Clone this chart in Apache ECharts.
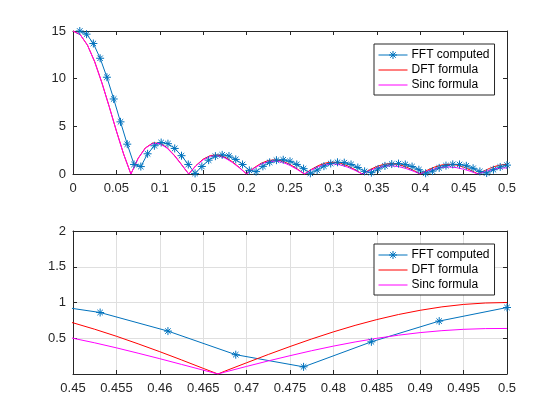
<!DOCTYPE html>
<html>
<head>
<meta charset="utf-8">
<script src="https://cdn.jsdelivr.net/npm/echarts@6/dist/echarts.min.js"></script>
<style>
  html, body { margin: 0; padding: 0; background: #fff; }
  #chart { width: 560px; height: 420px; }
</style>
</head>
<body>
<div id="chart"></div>
<script>
// normalised frequency samples for the two formula curves
const freq = [
  0, 0.0083, 0.0167, 0.025, 0.0333, 0.0417, 0.05, 0.0583, 0.0667, 0.075,
  0.0833, 0.0917, 0.1, 0.1083, 0.1167, 0.125, 0.1333, 0.1417, 0.15, 0.1583,
  0.1667, 0.175, 0.1833, 0.1917, 0.2, 0.2083, 0.2167, 0.225, 0.2333, 0.2417,
  0.25, 0.2583, 0.2667, 0.275, 0.2833, 0.2917, 0.3, 0.3083, 0.3167, 0.325,
  0.3333, 0.3417, 0.35, 0.3583, 0.3667, 0.375, 0.3833, 0.3917, 0.4, 0.4083,
  0.4167, 0.425, 0.4333, 0.4417,
  0.45, 0.4525, 0.455, 0.4575, 0.46, 0.4625, 0.465, 0.4667, 0.4675, 0.47,
  0.4725, 0.475, 0.4775, 0.48, 0.4825, 0.485, 0.4875, 0.49, 0.4925, 0.495, 0.4975, 0.5
];
const dftMag = [
  15, 14.62, 13.51, 11.78, 9.57, 7.08, 4.52, 2.10, 0, 1.64,
  2.73, 3.25, 3.24, 2.77, 1.97, 1.00, 0, 0.89, 1.56, 1.94,
  2.00, 1.77, 1.30, 0.68, 0, 0.63, 1.12, 1.42, 1.49, 1.34,
  1.00, 0.53, 0, 0.50, 0.91, 1.17, 1.24, 1.12, 0.84, 0.45,
  0, 0.44, 0.79, 1.02, 1.10, 1.00, 0.76, 0.41, 0, 0.40,
  0.73, 0.95, 1.02, 0.94,
  0.716, 0.626, 0.528, 0.422, 0.312, 0.197, 0.079, 0, 0.040, 0.157,
  0.273, 0.384, 0.490, 0.589, 0.680, 0.761, 0.832, 0.891, 0.939, 0.973, 0.993, 1.000
];
const sincMag = [
  15, 14.62, 13.51, 11.76, 9.55, 7.06, 4.50, 2.09, 0, 1.62,
  2.70, 3.21, 3.18, 2.72, 1.93, 0.97, 0, 0.86, 1.50, 1.86,
  1.91, 1.68, 1.23, 0.64, 0, 0.59, 1.04, 1.31, 1.36, 1.22,
  0.90, 0.47, 0, 0.44, 0.79, 1.01, 1.06, 0.95, 0.71, 0.38,
  0, 0.36, 0.64, 0.82, 0.87, 0.78, 0.59, 0.31, 0, 0.30,
  0.54, 0.69, 0.74, 0.67,
  0.500, 0.436, 0.366, 0.291, 0.214, 0.134, 0.054, 0, 0.027, 0.106,
  0.183, 0.256, 0.326, 0.390, 0.448, 0.499, 0.543, 0.579, 0.606, 0.625, 0.635, 0.637
];
// FFT bins (128 point), plotted one bin to the right
const fftMag = [
  15.00, 14.67, 13.69, 12.14, 10.15, 7.87, 5.47, 3.13, 1.00, 0.78,
  2.12, 2.96, 3.30, 3.18, 2.68, 1.92, 1.00, 0.06, 0.79, 1.45,
  1.87, 2.01, 1.89, 1.53, 1.00, 0.38, 0.25, 0.80, 1.22, 1.45,
  1.49, 1.33, 1.00, 0.56, 0.07, 0.41, 0.82, 1.10, 1.23, 1.19,
  1.00, 0.68, 0.28, 0.14, 0.53, 0.85, 1.04, 1.09, 1.00, 0.78,
  0.45, 0.08, 0.30, 0.64, 0.88, 1.01, 1.00, 0.86, 0.60, 0.27,
  0.10, 0.45, 0.74, 0.93
];
const fftLen = 128;
const seriesNames = ['FFT computed', 'DFT formula', 'Sinc formula'];

const axisColor = '#262626';
const fontFamily = '"Liberation Sans", Arial, Helvetica, sans-serif';
const star = 'path://M5,0L5,10M0,5L10,5M1.6,1.6L8.4,8.4M1.6,8.4L8.4,1.6';

const fftPts = fftMag.map((v, i) => [(i + 1) / fftLen, v]);
const dftPts = freq.map((f, i) => [f, dftMag[i]]);
const sincPts = freq.map((f, i) => [f, sincMag[i]]);

const fmt = v => String(+v.toFixed(3));

function xPair(gi, min, max, interval, grid) {
  const base = {
    type: 'value', gridIndex: gi, min, max, interval,
    axisLine: { onZero: false, lineStyle: { color: axisColor, width: 1 } },
    axisTick: { inside: true, length: 4, lineStyle: { color: axisColor } },
    splitLine: { show: false }
  };
  return [
    Object.assign({}, base, {
      position: 'bottom',
      splitLine: { show: grid, lineStyle: { color: '#dfdfdf', width: 1 } },
      axisLabel: { color: axisColor, fontSize: 13, fontFamily, margin: 8, interval: 0, formatter: fmt }
    }),
    Object.assign({}, base, { position: 'top', axisLabel: { show: false } })
  ];
}

function yPair(gi, min, max, interval, grid, hideZero) {
  const base = {
    type: 'value', gridIndex: gi, min, max, interval,
    axisLine: { show: true, onZero: false, lineStyle: { color: axisColor, width: 1 } },
    axisTick: { show: true, inside: true, length: 4, lineStyle: { color: axisColor } },
    splitLine: { show: false }
  };
  return [
    Object.assign({}, base, {
      position: 'left',
      splitLine: { show: grid, lineStyle: { color: '#dfdfdf', width: 1 } },
      axisLabel: {
        color: axisColor, fontSize: 13, fontFamily, margin: 7,
        formatter: v => (hideZero && v === 0 ? '' : fmt(v))
      }
    }),
    Object.assign({}, base, { position: 'right', axisLabel: { show: false } })
  ];
}

function seriesFor(xi, yi) {
  return [
    {
      name: seriesNames[0], type: 'line', xAxisIndex: xi, yAxisIndex: yi,
      data: fftPts, symbol: star, symbolSize: 8,
      lineStyle: { color: '#0072BD', width: 1 },
      itemStyle: { color: '#0072BD', borderColor: '#0072BD', borderWidth: 1 }
    },
    {
      name: seriesNames[1], type: 'line', xAxisIndex: xi, yAxisIndex: yi,
      data: dftPts, symbol: 'none',
      lineStyle: { color: '#FF0000', width: 1 }, itemStyle: { color: '#FF0000' }
    },
    {
      name: seriesNames[2], type: 'line', xAxisIndex: xi, yAxisIndex: yi,
      data: sincPts, symbol: 'none',
      lineStyle: { color: '#FF00FF', width: 1 }, itemStyle: { color: '#FF00FF' }
    }
  ];
}

function legendAt(top) {
  return {
    data: [
      { name: seriesNames[0], itemStyle: { borderWidth: 1 }, lineStyle: { width: 1 } },
      { name: seriesNames[1], itemStyle: { opacity: 0 }, lineStyle: { width: 1 } },
      { name: seriesNames[2], itemStyle: { opacity: 0 }, lineStyle: { width: 1 } }
    ],
    orient: 'vertical', left: 374, top,
    backgroundColor: '#fff', borderColor: axisColor, borderWidth: 1, borderRadius: 0,
    padding: [5, 5, 4, 4], itemWidth: 29, itemHeight: 10, itemGap: 3,
    textStyle: { color: '#000', fontSize: 12, fontFamily, padding: [0, 0, 0, -1] }
  };
}

const chart = echarts.init(document.getElementById('chart'), null, { renderer: 'canvas' });
chart.setOption({
  animation: false,
  backgroundColor: '#fff',
  grid: [
    { left: 73, top: 31, width: 434, height: 143 },
    { left: 73, top: 231, width: 434, height: 143 }
  ],
  xAxis: [].concat(xPair(0, 0, 0.5, 0.05, false), xPair(1, 0.45, 0.5, 0.005, true)),
  yAxis: [].concat(yPair(0, 0, 15, 5, false, false), yPair(1, 0, 2, 0.5, true, true)),
  legend: [legendAt(44), legendAt(244)],
  series: [].concat(seriesFor(0, 0), seriesFor(2, 2))
});
</script>
</body>
</html>
